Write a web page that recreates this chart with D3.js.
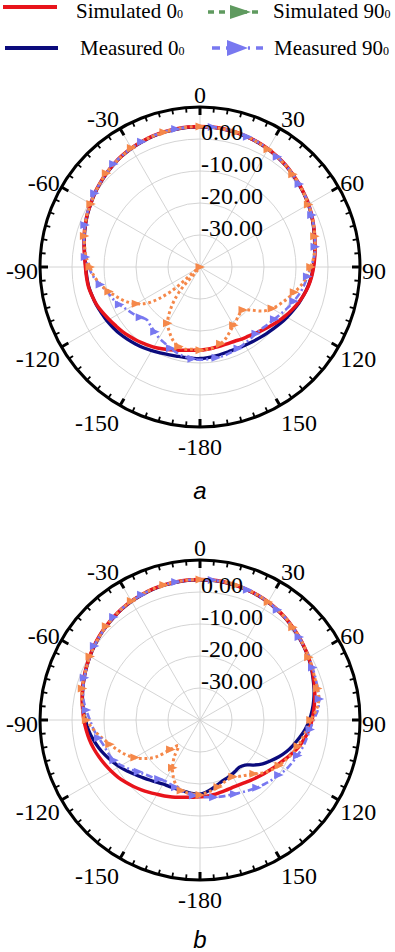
<!DOCTYPE html>
<html><head><meta charset="utf-8">
<script src="https://cdn.jsdelivr.net/npm/d3@7"></script>
<style>html,body{margin:0;padding:0;background:#fff;}svg{display:block;}</style>
</head><body>
<svg id="chart" width="395" height="952"></svg>
<script>
// ---------- DATA ----------
const angles = [-180,-175,-170,-165,-160,-155,-150,-145,-140,-135,-130,-125,-120,-115,-110,-105,-100,-95,-90,-85,-80,-75,-70,-65,-60,-55,-50,-45,-40,-35,-30,-25,-20,-15,-10,-5,0,5,10,15,20,25,30,35,40,45,50,55,60,65,70,75,80,85,90,95,100,105,110,115,120,125,130,135,140,145,150,155,160,165,170,175];

const seriesNames = ["Simulated 0", "Simulated 90", "Measured 0", "Measured 90"];
const panelLabels = ["a", "b"];
const angleTicks = [0,30,60,90,120,150,180,210,240,270,300,330];
const angleTickLabels = ["0","30","60","90","120","150","-180","-150","-120","-90","-60","-30"];
const radialTicks = [0,-10,-20,-30];
const radialTickLabels = ["0.00","-10.00","-20.00","-30.00"];
const radialDomain = [-40, 10];

// panel a
const aSim0 = [-14,-13.9,-13.6,-13.1,-12.5,-11.8,-11.1,-10.5,-9.8,-9.2,-8.5,-7.9,-7.2,-6.4,-5.6,-5.1,-4.6,-4.4,-4.2,-3.8,-3.2,-2.5,-1.8,-1.1,-0.5,0.2,0.8,1.4,2,2.5,2.9,3.2,3.5,3.7,3.8,3.9,3.9,3.9,3.8,3.6,3.3,3.0,2.6,2.1,1.6,1.0,0.4,-0.2,-0.8,-1.5,-2.2,-2.9,-3.5,-4.0,-4.5,-5.0,-5.6,-6.4,-7.3,-8.3,-9.3,-10.3,-11.3,-12.2,-13.0,-13.6,-14.0,-14.4,-14.5,-14.5,-14.4,-14.2];
const aMeas0 = [-11.4,-11.4,-11.3,-11.2,-10.9,-10.4,-9.8,-9.2,-8.6,-8.0,-7.4,-6.9,-6.4,-6.0,-5.5,-5.1,-4.7,-4.5,-4.3,-3.9,-3.3,-2.6,-1.9,-1.2,-0.6,0.1,0.7,1.3,1.9,2.4,2.8,3.1,3.4,3.6,3.7,3.8,3.8,3.8,3.7,3.5,3.2,2.9,2.5,2.0,1.5,0.9,0.3,-0.3,-0.9,-1.6,-2.3,-3.0,-3.6,-4.1,-4.6,-5.1,-5.7,-6.4,-7.1,-7.9,-8.6,-9.3,-10.0,-10.6,-11.1,-11.5,-11.8,-12.0,-12.1,-12.0,-11.8,-11.6];
const aSim90 = [-14,-14.2,-13.9,-14.3,-15.5,-17.5,-19.7,-24,-30,-40,-28,-20.5,-17,-14.5,-12.5,-10.5,-8.5,-6.8,-5.6,-4.3,-3.4,-2.6,-1.8,-1.1,-0.6,0.1,0.8,1.4,1.9,2.4,2.9,3.2,3.4,3.6,3.8,3.9,3.9,3.8,3.7,3.5,3.3,2.9,2.5,2.0,1.5,1.0,0.4,-0.3,-0.9,-1.5,-2.2,-2.9,-3.5,-4.3,-5.4,-6.5,-7.8,-9.5,-11,-12.5,-14,-16,-19,-21,-20.8,-20,-19,-17.8,-16.3,-15.2,-14.5,-14.2];
const aMeas90 = [-11,-11.2,-11.6,-12.2,-13.0,-13.8,-14.4,-15.3,-16.0,-16.6,-15.6,-14.5,-13.5,-12.2,-11,-10,-8.3,-6.5,-5.2,-4.0,-3.2,-2.5,-1.7,-1.0,-0.4,0.2,0.8,1.4,2.0,2.5,2.9,3.2,3.5,3.7,3.8,3.9,3.9,3.9,3.8,3.6,3.3,3.0,2.6,2.1,1.6,1.0,0.4,-0.2,-0.8,-1.5,-2.2,-2.9,-3.5,-4.2,-5.4,-6.3,-7.0,-7.8,-8.8,-9.8,-10.8,-11.6,-12.2,-12.7,-12.8,-12.6,-12.3,-11.9,-11.6,-11.3,-11.2,-11.1];

// panel b
const bSim0 = [-16,-15.8,-15.5,-15,-14.4,-13.8,-13.2,-12.4,-11.5,-10.6,-9.7,-8.8,-8.0,-7.2,-6.4,-5.6,-4.9,-4.3,-3.7,-3.2,-2.6,-2.0,-1.4,-0.8,-0.2,0.4,1.0,1.5,2.0,2.5,2.9,3.2,3.5,3.7,3.8,3.9,3.9,3.9,3.8,3.6,3.3,3.0,2.6,2.1,1.6,1.0,0.4,-0.2,-0.8,-1.5,-2.2,-2.9,-3.6,-4.3,-5.0,-5.8,-6.8,-8.0,-9.4,-10.8,-12.0,-13.0,-13.9,-14.7,-15.4,-16.0,-16.4,-16.6,-16.6,-16.5,-16.3,-16.1];
const bMeas0 = [-16.8,-16.9,-17.1,-17.2,-17.2,-17.1,-16.9,-16.3,-15.5,-14.6,-13.5,-12.2,-10.9,-9.6,-8.3,-7.1,-6.0,-5.0,-4.2,-3.4,-2.7,-2.1,-1.5,-0.9,-0.3,0.3,0.9,1.4,1.9,2.4,2.8,3.1,3.4,3.6,3.7,3.8,3.8,3.8,3.7,3.5,3.2,2.9,2.5,2.0,1.5,0.9,0.3,-0.3,-0.9,-1.6,-2.4,-3.1,-3.9,-4.8,-5.8,-7.0,-8.4,-9.8,-11.2,-12.8,-14.5,-16.1,-18.1,-20.1,-20.8,-20.6,-20.3,-20.0,-19.7,-19.0,-18.2,-17.4];
const bSim90 = [-16.6,-16.7,-16.9,-17.2,-18.3,-20.3,-22.8,-26,-29.5,-27,-22,-19,-16.5,-14.4,-12.6,-10.8,-8.7,-6.5,-4.5,-3.2,-2.5,-1.9,-1.4,-0.9,-0.3,0.3,0.9,1.4,2.0,2.5,2.9,3.2,3.5,3.7,3.8,3.9,3.9,3.9,3.8,3.6,3.3,3.0,2.6,2.1,1.6,1.0,0.4,-0.2,-0.8,-1.3,-1.8,-2.0,-2.3,-3.5,-5.4,-6.5,-7.5,-8.3,-9.3,-10.5,-11.5,-12.8,-14.3,-16.2,-17.5,-18.5,-19.5,-19.5,-19,-18.3,-17.7,-17.2];
const bMeas90 = [-16,-16.3,-16.8,-17.2,-17.6,-17.9,-18,-17.5,-16.7,-15.9,-14.8,-13.2,-11.6,-10.3,-9.5,-8.9,-7.8,-6.6,-5.6,-4.3,-3.0,-2.2,-1.5,-0.9,-0.3,0.3,0.9,1.4,2.0,2.5,2.9,3.2,3.5,3.7,3.8,3.9,3.9,3.9,3.8,3.6,3.3,3.0,2.6,2.1,1.6,1.0,0.4,-0.2,-0.7,-1.2,-1.6,-1.9,-2.2,-3.0,-4.5,-5.5,-6.2,-6.8,-7.6,-8.3,-9.0,-10.0,-10.8,-11.6,-12.4,-13.2,-13.9,-14.5,-14.9,-15.2,-15.5,-15.8];

// ---------- STYLE ----------
const C = {red:"#e8141b", navy:"#0b0b7c", orange:"#f5884a", lblue:"#7878f0", green:"#5f9a5f"};
const R = 160;
const serif = "'Liberation Serif','Times New Roman',serif";

const svg = d3.select("#chart");
const rScale = d3.scaleLinear().domain(radialDomain).range([0, R]).clamp(true);
const toRad = d => d * Math.PI / 180;

const radial = d3.lineRadial()
  .angle((d, i) => toRad(angles[i]))
  .radius(d => rScale(d))
  .curve(d3.curveCatmullRomClosed.alpha(0.5));

const triPath = "M-4.5,-4 L5,0 L-4.5,4 Z";

const panels = [
  {cy: 267, label: panelLabels[0], labelY: 499, sim0: aSim0, meas0: aMeas0, sim90: aSim90, meas90: aMeas90},
  {cy: 720, label: panelLabels[1], labelY: 948, sim0: bSim0, meas0: bMeas0, sim90: bSim90, meas90: bMeas90}
];

panels.forEach(p => {
  const g = svg.append("g").attr("transform", `translate(200,${p.cy})`);

  // grid rings
  g.selectAll("circle.ring").data(radialTicks).join("circle")
    .attr("r", d => rScale(d)).attr("fill", "none")
    .attr("stroke", "#cfcfcf").attr("stroke-width", 0.9);
  // spokes
  g.selectAll("line.spoke").data(angleTicks).join("line")
    .attr("x1", 0).attr("y1", 0)
    .attr("x2", d => R * Math.sin(toRad(d)))
    .attr("y2", d => -R * Math.cos(toRad(d)))
    .attr("stroke", "#cfcfcf").attr("stroke-width", 0.9);

  // curves
  g.append("path").attr("d", radial(p.meas0)).attr("fill", "none")
    .attr("stroke", C.navy).attr("stroke-width", 3.3);
  g.append("path").attr("d", radial(p.sim0)).attr("fill", "none")
    .attr("stroke", C.red).attr("stroke-width", 3.5);
  g.append("path").attr("d", radial(p.meas90)).attr("fill", "none")
    .attr("stroke", C.lblue).attr("stroke-width", 2.6).attr("stroke-dasharray", "7,3,2,3");
  g.append("path").attr("d", radial(p.sim90)).attr("fill", "none")
    .attr("stroke", C.orange).attr("stroke-width", 3).attr("stroke-dasharray", "2.8,2.8");

  // markers
  const mk = (vals, offset, color) => {
    g.append("g").selectAll("path").data(vals.map((v, i) => ({v, a: angles[i], i})).filter(d => (d.i - offset) % 3 === 0))
      .join("path").attr("d", triPath)
      .attr("transform", d => `translate(${rScale(d.v) * Math.sin(toRad(d.a))},${-rScale(d.v) * Math.cos(toRad(d.a))})`)
      .attr("fill", color);
  };
  mk(p.meas90, 1, C.lblue);
  mk(p.sim90, 0, C.orange);

  // outer axis circle
  g.append("circle").attr("r", R).attr("fill", "none").attr("stroke", "#000").attr("stroke-width", 3);
  // ticks every 5 deg
  const tickAngles = angles.map(a => (a + 360) % 360);
  g.selectAll("line.tick").data(tickAngles).join("line")
    .attr("x1", d => R * Math.sin(toRad(d)))
    .attr("y1", d => -R * Math.cos(toRad(d)))
    .attr("x2", d => (R - (d % 30 === 0 ? 8 : 5)) * Math.sin(toRad(d)))
    .attr("y2", d => -(R - (d % 30 === 0 ? 8 : 5)) * Math.cos(toRad(d)))
    .attr("stroke", "#000").attr("stroke-width", d => d % 30 === 0 ? 3 : 1.8);

  // angle labels
  g.selectAll("text.ang").data(angleTicks).join("text")
    .attr("font-family", serif).attr("font-size", 24)
    .attr("text-anchor", d => (d === 0 || d === 180) ? "middle" : (d < 180 ? "start" : "end"))
    .attr("x", d => (d === 0 || d === 180) ? 0 : 162 * Math.sin(toRad(d)))
    .attr("y", d => -176 * Math.cos(toRad(d)) + 4 + 8)
    .text((d, i) => angleTickLabels[i]);

  // radial labels
  g.selectAll("text.rad").data(radialTicks).join("text")
    .attr("font-family", serif).attr("font-size", 24)
    .attr("x", 1).attr("y", d => -rScale(d) + 1)
    .text((d, i) => radialTickLabels[i]);

  // panel letter
  svg.append("text").attr("x", 200).attr("y", p.labelY)
    .attr("text-anchor", "middle")
    .attr("font-family", "'Liberation Sans',Arial,sans-serif")
    .attr("font-style", "italic").attr("font-size", 24)
    .text(p.label);
});

// ---------- LEGEND ----------
const leg = svg.append("g");
leg.append("line").attr("x1", 3).attr("x2", 57).attr("y1", 7).attr("y2", 7)
  .attr("stroke", C.red).attr("stroke-width", 4);
leg.append("line").attr("x1", 5).attr("x2", 58).attr("y1", 48).attr("y2", 48)
  .attr("stroke", C.navy).attr("stroke-width", 4);
leg.append("line").attr("x1", 208).attr("x2", 261).attr("y1", 12).attr("y2", 12)
  .attr("stroke", C.green).attr("stroke-width", 3.5).attr("stroke-dasharray", "6,5");
leg.append("path").attr("d", "M230,5 L251,12 L230,19 Z").attr("fill", C.green);
leg.append("line").attr("x1", 212).attr("x2", 263).attr("y1", 48).attr("y2", 48)
  .attr("stroke", C.lblue).attr("stroke-width", 3.5).attr("stroke-dasharray", "8,6,2,6");
leg.append("path").attr("d", "M227,40 L248,48 L227,56 Z").attr("fill", C.lblue);

const legText = [
  {x: 76, y: 18, t: seriesNames[0]},
  {x: 273, y: 18, t: seriesNames[1]},
  {x: 80, y: 55, t: seriesNames[2]},
  {x: 274, y: 55, t: seriesNames[3]}
];
legText.forEach(d => {
  const t = leg.append("text").attr("x", d.x).attr("y", d.y)
    .attr("font-family", serif).attr("font-size", 21).text(d.t);
  t.append("tspan").attr("font-size", 12).text("0");
});
</script>
</body></html>
